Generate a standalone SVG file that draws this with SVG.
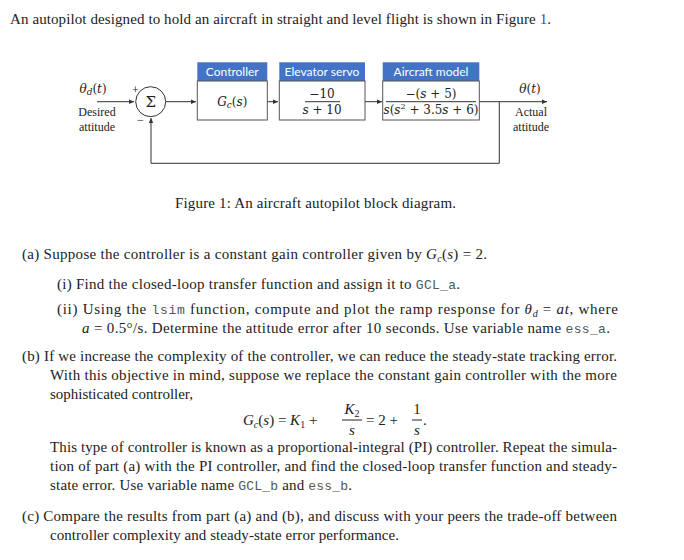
<svg xmlns="http://www.w3.org/2000/svg" width="684" height="560" viewBox="0 0 684 560">
<style>
.t{font-family:"Liberation Serif",serif;font-size:15px;fill:#222}
.m{font-family:"Liberation Mono",monospace;font-size:13px;fill:#555}
.h{font-family:"Lato","Liberation Sans",sans-serif;font-size:12px;fill:#fff}
.b{font-family:"DejaVu Serif","Liberation Serif",serif;font-size:12px;fill:#222}
.l{font-family:"Liberation Serif",serif;font-size:12px;fill:#222}
.box{fill:#fff;stroke:#555;stroke-width:1}
.hd{fill:#4472C4}
.w{stroke:#333;stroke-width:1;fill:none}
</style>
<defs><marker id="a" markerWidth="6" markerHeight="6" refX="5" refY="3" orient="auto"><path d="M0,0.8L5,3L0,5.2z" fill="#333"/></marker></defs>
<rect width="684" height="560" fill="#fff"/>
<text class="t" x="10" y="24" textLength="541">An autopilot designed to hold an aircraft in straight and level flight is shown in Figure <tspan fill="#4040d0">1</tspan>.</text>

<g id="connectors">
<line class="w" x1="97" y1="101.7" x2="134" y2="101.7" marker-end="url(#a)"/>
<line class="w" x1="166" y1="101.7" x2="196" y2="101.7" marker-end="url(#a)"/>
<line class="w" x1="267" y1="101.7" x2="278" y2="101.7" marker-end="url(#a)"/>
<line class="w" x1="365" y1="101.7" x2="382" y2="101.7" marker-end="url(#a)"/>
<line class="w" x1="479" y1="101.7" x2="547" y2="101.7" marker-end="url(#a)"/>
<polyline class="w" points="499.3,101.7 499.3,163.3 151,163.3 151,118" marker-end="url(#a)"/>
</g>
<g id="sum">
<circle cx="150.7" cy="101.7" r="15" fill="#fff" stroke="#333"/>
<text x="150.7" y="107" text-anchor="middle" font-family="DejaVu Serif,serif" font-size="15" fill="#222">Σ</text>
<text x="132" y="94" class="l" font-size="9">+</text>
<text x="137" y="124" class="l" font-size="11">−</text>
</g>
<g id="input">
<text class="b" x="93" y="93" text-anchor="middle" font-style="italic">θ<tspan font-size="9" dy="2">d</tspan><tspan dy="-2" font-style="normal">(</tspan>t<tspan font-style="normal">)</tspan></text>
<text class="l" x="97" y="116" text-anchor="middle">Desired</text>
<text class="l" x="97" y="131" text-anchor="middle">attitude</text>
</g>
<g id="controller">
<rect class="hd" x="197.3" y="62.3" width="70" height="18.7"/>
<rect class="box" x="197.3" y="81" width="70" height="39"/>
<text class="h" x="232.3" y="76" text-anchor="middle">Controller</text>
<text class="b" x="232.3" y="106" text-anchor="middle" font-style="italic">G<tspan font-size="9" dy="2">c</tspan><tspan dy="-2" font-style="normal">(</tspan>s<tspan font-style="normal">)</tspan></text>
</g>
<g id="servo">
<rect class="hd" x="279.3" y="62.3" width="85.7" height="18.7"/>
<rect class="box" x="279.3" y="81" width="85.7" height="39"/>
<text class="h" x="322" y="76" text-anchor="middle">Elevator servo</text>
<text class="b" x="322" y="98" text-anchor="middle">−10</text>
<line x1="305" y1="101.7" x2="340" y2="101.7" stroke="#333"/>
<text class="b" x="322" y="114" text-anchor="middle"><tspan font-style="italic">s</tspan> + 10</text>
</g>
<g id="aircraft">
<rect class="hd" x="382.7" y="62.3" width="96.6" height="18.7"/>
<rect class="box" x="382.7" y="81" width="96.6" height="39"/>
<text class="h" x="431" y="76" text-anchor="middle">Aircraft model</text>
<text class="b" x="431" y="98" text-anchor="middle">−(<tspan font-style="italic">s</tspan> + 5)</text>
<line x1="386" y1="101.7" x2="476" y2="101.7" stroke="#333"/>
<text class="b" x="431" y="114" text-anchor="middle"><tspan font-style="italic">s</tspan>(<tspan font-style="italic">s</tspan><tspan font-size="8" dy="-5">2</tspan><tspan dy="5"> + 3.5</tspan><tspan font-style="italic">s</tspan> + 6)</text>
</g>
<g id="output">
<text class="b" x="530" y="93" text-anchor="middle" font-style="italic">θ<tspan font-style="normal">(</tspan>t<tspan font-style="normal">)</tspan></text>
<text class="l" x="531" y="116" text-anchor="middle">Actual</text>
<text class="l" x="531" y="131" text-anchor="middle">attitude</text>
</g>

<text class="t" x="175" y="208" textLength="281">Figure 1: An aircraft autopilot block diagram.</text>
<text class="t" x="22" y="259" textLength="465">(a) Suppose the controller is a constant gain controller given by <tspan font-style="italic">G<tspan font-size="10" dy="3">c</tspan></tspan><tspan dy="-3">(</tspan><tspan font-style="italic">s</tspan>) = 2.</text>
<text class="t" x="57" y="289" textLength="403">(i) Find the closed-loop transfer function and assign it to <tspan class="m">GCL_a</tspan>.</text>
<text class="t" x="57" y="314" textLength="561">(ii) Using the <tspan class="m" fill="#222">lsim</tspan> function, compute and plot the ramp response for <tspan font-style="italic">θ<tspan font-size="10" dy="3">d</tspan></tspan><tspan dy="-3"> = </tspan><tspan font-style="italic">at</tspan>, where</text>
<text class="t" x="82" y="333" textLength="528"><tspan font-style="italic">a</tspan> = 0.5°/s. Determine the attitude error after 10 seconds. Use variable name <tspan class="m">ess_a</tspan>.</text>
<text class="t" x="22" y="361" textLength="595">(b) If we increase the complexity of the controller, we can reduce the steady-state tracking error.</text>
<text class="t" x="50" y="380" textLength="567">With this objective in mind, suppose we replace the constant gain controller with the more</text>
<text class="t" x="50" y="399" textLength="143">sophisticated controller,</text>
<text class="t" x="243" y="425"><tspan font-style="italic">G<tspan font-size="10" dy="3">c</tspan></tspan><tspan dy="-3">(</tspan><tspan font-style="italic">s</tspan>) = <tspan font-style="italic">K</tspan><tspan font-size="10" dy="3">1</tspan><tspan dy="-3"> +</tspan></text>
<text class="t" x="352" y="414" text-anchor="middle"><tspan font-style="italic">K</tspan><tspan font-size="10" dy="3">2</tspan></text>
<line x1="342" y1="420" x2="362" y2="420" stroke="#222"/>
<text class="t" x="352" y="435" text-anchor="middle" font-style="italic">s</text>
<text class="t" x="366" y="425">= 2 +</text>
<text class="t" x="417" y="414" text-anchor="middle">1</text>
<line x1="412" y1="420" x2="422" y2="420" stroke="#222"/>
<text class="t" x="417" y="435" text-anchor="middle" font-style="italic">s</text>
<text class="t" x="423" y="425">.</text>
<text class="t" x="50" y="452" textLength="567">This type of controller is known as a proportional-integral (PI) controller. Repeat the simula-</text>
<text class="t" x="50" y="471" textLength="567">tion of part (a) with the PI controller, and find the closed-loop transfer function and steady-</text>
<text class="t" x="50" y="490" textLength="302">state error. Use variable name <tspan class="m">GCL_b</tspan> and <tspan class="m">ess_b</tspan>.</text>
<text class="t" x="22" y="521" textLength="595">(c) Compare the results from part (a) and (b), and discuss with your peers the trade-off between</text>
<text class="t" x="50" y="540" textLength="349">controller complexity and steady-state error performance.</text>
</svg>
